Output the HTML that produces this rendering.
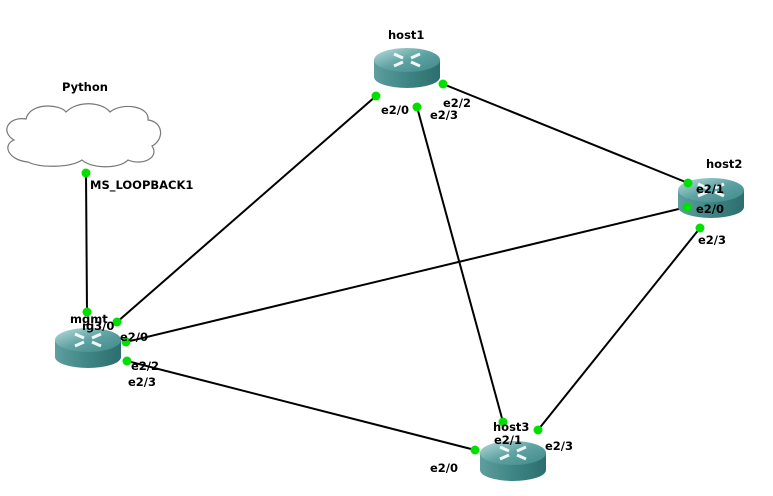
<!DOCTYPE html>
<html><head><style>body{margin:0;background:#fff}svg{display:block}text{font-family:"DejaVu Sans","Liberation Sans",sans-serif;font-weight:bold;font-size:11.5px;fill:#000}</style></head><body>
<svg width="773" height="496" viewBox="0 0 773 496">
<defs>
<linearGradient id="top" x1="0" y1="0" x2="1" y2="1"><stop offset="0" stop-color="#b9dcdc"/><stop offset="0.5" stop-color="#5fa3a3"/><stop offset="1" stop-color="#3f8888"/></linearGradient>
<linearGradient id="side" x1="0" y1="0" x2="1" y2="0"><stop offset="0" stop-color="#5e9e9e"/><stop offset="0.5" stop-color="#3f8585"/><stop offset="1" stop-color="#2d6e6e"/></linearGradient>
<g id="r">
<path d="M0,13 L0,30 A33,11 0 0 0 66,30 L66,13 Z" fill="url(#side)"/>
<ellipse cx="33" cy="13" rx="33" ry="12" fill="url(#top)"/>
<g stroke="#fff" stroke-width="3" fill="none" opacity="0.9">
<path d="M20,7 L29,11 M46,7 L37,11 M20,19 L29,15 M46,19 L37,15"/>
</g>
</g>
</defs>
<g stroke="#000" stroke-width="2">
<line x1="87" y1="312" x2="86" y2="173"/>
<line x1="376" y1="96" x2="117" y2="322"/>
<line x1="417" y1="107" x2="503" y2="422"/>
<line x1="443" y1="84" x2="688" y2="183"/>
<line x1="687" y1="207" x2="126" y2="342"/>
<line x1="700" y1="228" x2="538" y2="430"/>
<line x1="127" y1="361" x2="475" y2="450"/>
</g>
<path d="M28,162 C8,160 2,145 14,140 C0,132 8,116 26,119 C30,102 60,104 66,112 C78,100 102,102 110,112 C122,102 150,106 148,120 C164,122 164,140 152,146 C160,158 142,166 128,160 C118,170 90,168 82,160 C70,168 40,168 28,162 Z" fill="#fff" stroke="#777" stroke-width="1.2"/>
<use href="#r" x="374" y="47"/>
<use href="#r" x="678" y="177"/>
<use href="#r" x="55" y="327"/>
<use href="#r" x="480" y="440"/>
<g fill="#00e000">
<circle cx="86" cy="173" r="4.5"/><circle cx="87" cy="312" r="4.5"/>
<circle cx="376" cy="96" r="4.5"/><circle cx="417" cy="107" r="4.5"/><circle cx="443" cy="84" r="4.5"/>
<circle cx="688" cy="183" r="4.5"/><circle cx="687" cy="207" r="4.5"/><circle cx="700" cy="228" r="4.5"/>
<circle cx="117" cy="322" r="4.5"/><circle cx="126" cy="342" r="4.5"/><circle cx="127" cy="361" r="4.5"/>
<circle cx="503" cy="422" r="4.5"/><circle cx="538" cy="430" r="4.5"/><circle cx="475" cy="450" r="4.5"/>
</g>
<text x="62" y="91">Python</text>
<text x="90" y="189">MS_LOOPBACK1</text>
<text x="388" y="39">host1</text>
<text x="706" y="168">host2</text>
<text x="70" y="323">mgmt</text>
<text x="493" y="431">host3</text>
<text x="381" y="114">e2/0</text>
<text x="443" y="107">e2/2</text>
<text x="430" y="119">e2/3</text>
<text x="696" y="193">e2/1</text>
<text x="696" y="213">e2/0</text>
<text x="698" y="244">e2/3</text>
<text x="82" y="330">ig3/0</text>
<text x="120" y="341">e2/0</text>
<text x="131" y="370">e2/2</text>
<text x="128" y="386">e2/3</text>
<text x="494" y="444">e2/1</text>
<text x="545" y="450">e2/3</text>
<text x="430" y="472">e2/0</text>
</svg>
</body></html>
